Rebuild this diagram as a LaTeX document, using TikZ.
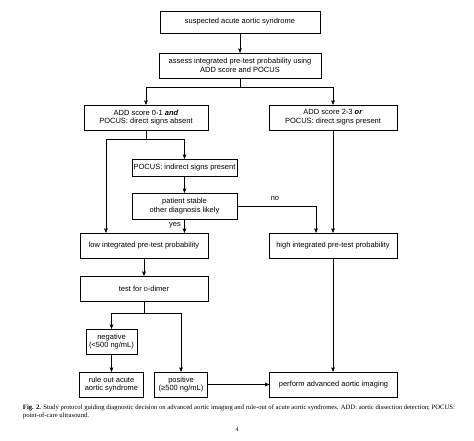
\documentclass[tikz,border=0pt]{standalone}
\usepackage{fontspec}
\setmainfont{Liberation Sans}
\newfontfamily\capfont{Liberation Serif}
\usetikzlibrary{arrows.meta}
\usetikzlibrary{positioning}

\begin{document}
\begin{tikzpicture}[x=1pt,y=1pt,->,>={Stealth[length=4.5pt,width=3.6pt,inset=0.5pt]},line width=0.8pt,auto,
  font=\fontsize{7.5}{8.7}\selectfont,
  box/.style={draw=black,rectangle,align=center,inner sep=1pt,outer sep=0pt,minimum height=25pt,minimum width=128pt}]
\useasboundingbox (0,0) rectangle (474,440);
\node[box, minimum width=160pt, minimum height=22pt] (sus) at (240,418) {suspected acute aortic syndrome};
\node[box, minimum width=162pt] (assess) [below=20pt of sus] {assess integrated pre-test probability using\\ ADD score and POCUS};
\node[box, minimum width=124pt] (add01) [below=27pt of assess, xshift=-94pt] {ADD score 0-1 \textbf{\textit{and}}\\ POCUS: direct signs absent};
\node[box] (add23) [right=61pt of add01] {ADD score 2-3 \textbf{\textit{or}}\\ POCUS: direct signs present};
\node[box, minimum width=105pt, minimum height=17pt] (indirect) [below=29pt of add01, xshift=38.5pt] {POCUS: indirect signs present};
\node[box, minimum width=105pt, minimum height=26pt] (stable) [below=17pt of indirect] {patient stable\\ other diagnosis likely};
\node[box] (lowp) [below=14pt of stable, xshift=-40.5pt] {low integrated pre-test probability};
\node[box] (highp) [right=61pt of lowp] {high integrated pre-test probability};
\node[box] (ddimer) [below=18pt of lowp] {test for {\fontsize{5.6}{6}\selectfont D}-dimer};
\node[box, minimum width=51pt] (neg) [below=28pt of ddimer, xshift=-32.5pt] {negative\\ (<500 ng/mL)};
\node[box, minimum width=64pt] (rule) [below=18pt of neg] {rule out acute\\ aortic syndrome};
\node[box, minimum width=53pt] (pos) [right=11pt of rule] {positive\\ (≥500 ng/mL)};
\node[box] (perform) [right=62pt of pos] {perform advanced aortic imaging};
% split points and free ends
\coordinate (split1) at ([yshift=-9pt]assess.south);
\coordinate (split2) at ([yshift=-9pt]add01.south);
\coordinate (split3) at ([yshift=-12pt]ddimer.south);
\coordinate (lowin) at ([xshift=-38pt]lowp.north);
\coordinate (highin) at ([xshift=-17pt]highp.north);
\draw (sus) -- (assess);
\draw[-] (assess) -- (split1);
\draw (split1) -| (add01);
\draw (split1) -| (add23);
\draw[-] (add01) -- (split2);
\draw (split2) -| (indirect);
\draw (split2) -| (lowin);
\draw (indirect) -- (stable);
\draw (stable) -- node[swap,pos=0.45] {yes} (stable |- lowp.north);
\draw (stable) -| node[pos=0.24,yshift=2pt] {no} (highin);
\draw (add23) -- (highp);
\draw (lowp) -- (ddimer);
\draw[-] (ddimer) -- (split3);
\draw (split3) -| (neg);
\draw (split3) -| (pos);
\draw (neg) -- (neg |- rule.north);
\draw (pos) -- (perform);
\draw (highp) -- (highp |- perform.north);
% caption
\node[anchor=west, font=\capfont\fontsize{6.65}{8}\selectfont, align=left, inner sep=0pt] (caption) at (22.6,28) {\textbf{Fig. 2.} Study protocol guiding diagnostic decision on advanced aortic imaging and rule-out of acute aortic syndromes. ADD: aortic dissection detection; POCUS:\\ point-of-care ultrasound.};
\node[font=\capfont\fontsize{6}{7}\selectfont] (page) at (237,10) {4};
\end{tikzpicture}
\end{document}
